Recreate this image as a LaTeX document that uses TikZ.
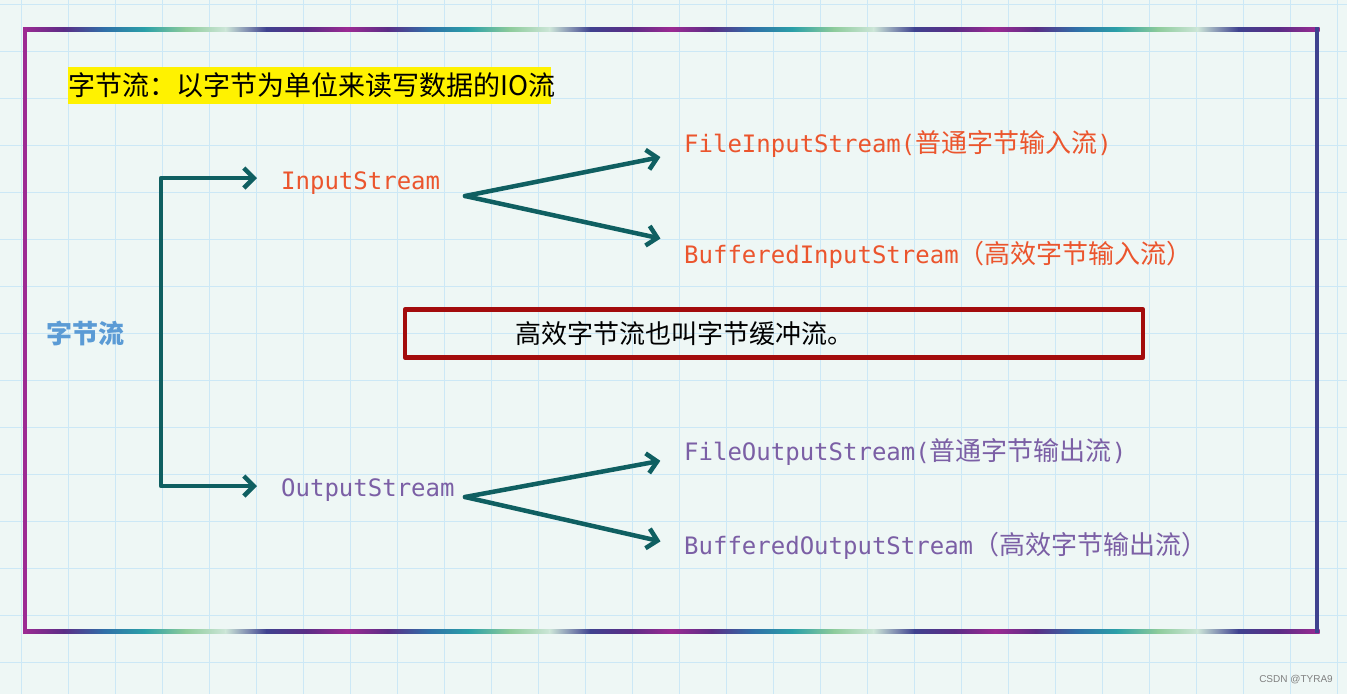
\documentclass[tikz,border=0pt]{standalone}
\usepackage{fontspec}
\setmonofont{DejaVu Sans Mono}
\newfontfamily\cjk{Noto Sans CJK SC}
\newfontfamily\marksans{Liberation Sans}
\usetikzlibrary{arrows.meta,calc}

\definecolor{paper}{HTML}{EEF7F5}
\definecolor{gridblue}{HTML}{CCE8F6}
\definecolor{flowteal}{HTML}{0F5F61}
\definecolor{inred}{HTML}{EB552D}
\definecolor{outpurple}{HTML}{7B5FA5}
\definecolor{rootblue}{HTML}{5B9BD5}
\definecolor{notered}{HTML}{A30C0C}
\definecolor{framemagenta}{HTML}{9C2A93}
\definecolor{framepurple}{HTML}{5B2D86}
\definecolor{frameblue}{HTML}{2F6FA8}
\definecolor{frameteal}{HTML}{2AA0A8}
\definecolor{framegreen}{HTML}{8CCB9A}
\definecolor{framepale}{HTML}{CDE6D8}
\definecolor{frameindigo}{HTML}{3F428F}

\newcommand\zh[1]{{\cjk\fontsize{26}{28}\selectfont #1}}

\begin{document}
\begin{tikzpicture}[x=1pt, y=-1pt,
    gridline/.style={draw=gridblue, line width=1pt},
    headline/.style={anchor=west, fill=yellow, inner xsep=0pt, inner ysep=0pt,
      text width=483pt, minimum height=37pt, font=\cjk\fontsize{27}{30}\selectfont},
    rootlabel/.style={text=rootblue, font=\cjk\bfseries\fontsize{26}{30}\selectfont},
    streamlabel/.style={anchor=west, inner sep=3pt, font=\ttfamily\fontsize{24}{28}\selectfont},
    notebox/.style={draw=notered, line width=4.5pt, line join=round},
    notetext/.style={anchor=west, inner sep=0pt, font=\cjk\fontsize{26}{30}\selectfont},
    flow/.style={draw=flowteal, line width=4.5pt, line cap=round, line join=round,
      shorten >=21pt, -{Straight Barb[length=10pt,width=20pt]}}
  ]
  \useasboundingbox (0,0) rectangle (1347,694);
  \fill[paper] (0,0) rectangle (1347,694);
  \foreach \gx in {21,68,...,1347} \draw[gridline] (\gx,0) -- (\gx,694);
  \foreach \gy in {4,51,...,694} \draw[gridline] (0,\gy) -- (1347,\gy);

  % frame, four colour runs along top and bottom
  \foreach \ca/\cb [count=\k from 0] in {framemagenta/framepurple, framepurple/frameblue,
      frameblue/frameteal, frameteal/framegreen, framegreen/framepale,
      framepale/frameindigo, frameindigo/framepurple, framepurple/framemagenta} {
    \foreach \p in {0,1,2,3} {
      \pgfmathsetmacro\sx{23+(\p*8+\k)*40.5}
      \shade[left color=\ca, right color=\cb] (\sx,27) rectangle (\sx+41,31);
      \shade[left color=\ca, right color=\cb] (\sx,629) rectangle (\sx+41,633);
    }
  }
  \fill[framemagenta] (23,27) rectangle (27,633);
  \fill[frameindigo] (1315,27) rectangle (1319,633);

  \node[headline] (title) at (68,85.5) {字节流：以字节为单位来读写数据的IO流};
  \node[rootlabel] (root) at (85,333) {字节流};

  \node[streamlabel, text=inred] (in) at (278,183) {InputStream};
  \node[streamlabel, text=outpurple] (out) at (278,490) {OutputStream};

  \node[streamlabel, text=inred] (fis) at (681,144) {FileInputStream(\zh{普通字节输入流})};
  \node[streamlabel, text=inred] (bis) at (681,255) {BufferedInputStream\zh{（高效字节输入流）}};
  \node[streamlabel, text=outpurple] (fos) at (681,452) {FileOutputStream(\zh{普通字节输出流})};
  \node[streamlabel, text=outpurple] (bos) at (681,546) {BufferedOutputStream\zh{（高效字节输出流）}};

  \node[notebox, minimum width=738pt, minimum height=48pt] (note) at (774,333.5) {};
  \node[notetext] (note text) at ([xshift=113pt]note.west) {高效字节流也叫字节缓冲流。};

  \coordinate (spine) at (161,333);
  \coordinate (in fork) at (465,196);
  \coordinate (out fork) at (465,497);

  {
      \draw[flow] (spine) |- ([yshift=5pt]in.west);
      \draw[flow] (spine) |- ([yshift=4pt]out.west);

      \draw[flow] (in fork) -- ([yshift=-9pt]fis.west);
      \draw[flow] (in fork) -- ([yshift=12pt]bis.west);
      \draw[flow] (out fork) -- ([yshift=-5pt]fos.west);
      \draw[flow] (out fork) -- (bos.west);
  };

  \node[text=gray, font=\marksans\fontsize{10}{12}\selectfont] (mark) at (1296,680) {CSDN @TYRA9};
\end{tikzpicture}
\end{document}
